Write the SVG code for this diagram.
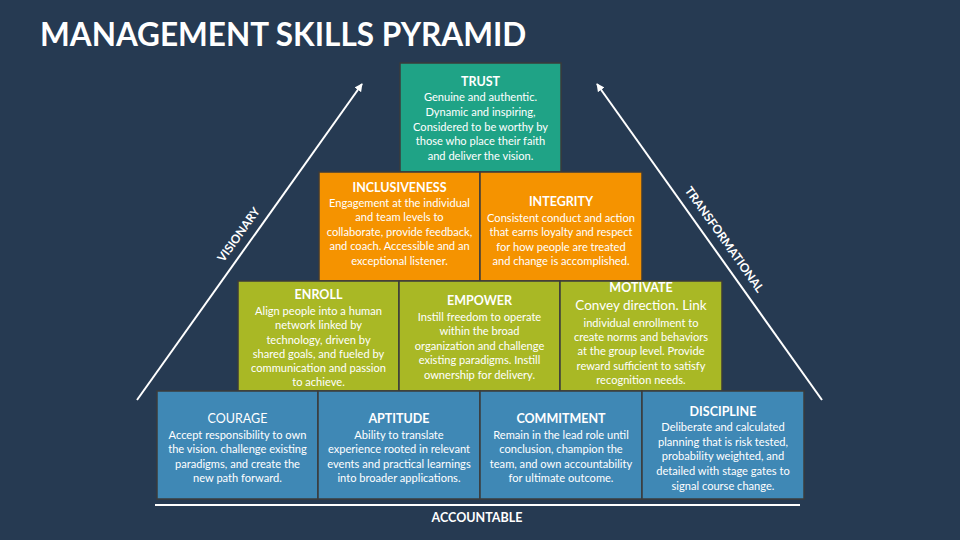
<svg xmlns="http://www.w3.org/2000/svg" width="960" height="540" viewBox="0 0 960 540">
<defs>
<marker id="ah" viewBox="0 0 10 10" refX="9" refY="5" markerWidth="4" markerHeight="4" orient="auto-start-reverse" markerUnits="strokeWidth">
<path d="M0,0 L10,5 L0,10 z" fill="#ffffff"/>
</marker>
<style>
text{font-family:Lato,"Liberation Sans",sans-serif;fill:#ffffff;text-anchor:middle}
.h{font-weight:bold;font-size:12.5px}
.b{font-size:11.1px}
.box{stroke:#3b3b3b;stroke-width:1.5}
.teal{fill:#1fa386}
.orange{fill:#f59300}
.green{fill:#a9b825}
.blue{fill:#3f88b5}
.ln{stroke:#ffffff;stroke-width:2;fill:none}
</style>
</defs>
<rect width="960" height="540" fill="#263a52"/>
<text x="40" y="46" style="font-size:31.5px;font-weight:bold;text-anchor:start">MANAGEMENT SKILLS PYRAMID</text>

<g id="connectors">
<line class="ln" x1="137" y1="400" x2="362" y2="84" marker-end="url(#ah)"/>
<line class="ln" x1="822" y1="400" x2="597" y2="84" marker-end="url(#ah)"/>
<line class="ln" x1="155" y1="505" x2="800" y2="505"/>
<text class="h" x="0" y="0" transform="translate(242,237) rotate(-54.5)" style="font-size:11.8px">VISIONARY</text>
<text class="h" x="0" y="0" transform="translate(721,242) rotate(54.5)" style="font-size:12px">TRANSFORMATIONAL</text>
<text class="h" x="477" y="522">ACCOUNTABLE</text>
</g>

<g id="trust">
<rect class="box teal" x="400" y="63" width="161" height="109"/>
<text class="h" x="480.5" y="86">TRUST</text>
<text class="b" x="480.5" y="101">Genuine and authentic.</text>
<text class="b" x="480.5" y="116">Dynamic and inspiring,</text>
<text class="b" x="480.5" y="131">Considered to be worthy by</text>
<text class="b" x="480.5" y="145">those who place their faith</text>
<text class="b" x="480.5" y="160">and deliver the vision.</text>
</g>

<g id="inclusiveness">
<rect class="box orange" x="319" y="172" width="161" height="109"/>
<text class="h" x="399.5" y="192">INCLUSIVENESS</text>
<text class="b" x="399.5" y="207">Engagement at the individual</text>
<text class="b" x="399.5" y="221">and team levels to</text>
<text class="b" x="399.5" y="236">collaborate, provide feedback,</text>
<text class="b" x="399.5" y="250">and coach. Accessible and an</text>
<text class="b" x="399.5" y="265">exceptional listener.</text>
</g>

<g id="integrity">
<rect class="box orange" x="480" y="172" width="162" height="109"/>
<text class="h" x="561" y="206">INTEGRITY</text>
<text class="b" x="561" y="222">Consistent conduct and action</text>
<text class="b" x="561" y="236">that earns loyalty and respect</text>
<text class="b" x="561" y="251">for how people are treated</text>
<text class="b" x="561" y="265">and change is accomplished.</text>
</g>

<g id="enroll">
<rect class="box green" x="238" y="281" width="161" height="110"/>
<text class="h" x="318.5" y="299">ENROLL</text>
<text class="b" x="318.5" y="315">Align people into a human</text>
<text class="b" x="318.5" y="329">network linked by</text>
<text class="b" x="318.5" y="344">technology, driven by</text>
<text class="b" x="318.5" y="358">shared goals, and fueled by</text>
<text class="b" x="318.5" y="372">communication and passion</text>
<text class="b" x="318.5" y="386">to achieve.</text>
</g>

<g id="empower">
<rect class="box green" x="399" y="281" width="161" height="110"/>
<text class="h" x="479.5" y="305">EMPOWER</text>
<text class="b" x="479.5" y="321">Instill freedom to operate</text>
<text class="b" x="479.5" y="335">within the broad</text>
<text class="b" x="479.5" y="350">organization and challenge</text>
<text class="b" x="479.5" y="364">existing paradigms. Instill</text>
<text class="b" x="479.5" y="379">ownership for delivery.</text>
</g>

<g id="motivate">
<rect class="box green" x="560" y="281" width="162" height="110"/>
<text class="h" x="641" y="292">MOTIVATE</text>
<text class="b" x="641" y="310" style="font-size:13.5px">Convey direction. Link</text>
<text class="b" x="641" y="327">individual enrollment to</text>
<text class="b" x="641" y="341">create norms and behaviors</text>
<text class="b" x="641" y="355">at the group level. Provide</text>
<text class="b" x="641" y="370">reward sufficient to satisfy</text>
<text class="b" x="641" y="384">recognition needs.</text>
</g>

<g id="courage">
<rect class="box blue" x="157" y="391" width="161" height="108"/>
<text class="h" x="237.5" y="423" style="font-weight:normal">COURAGE</text>
<text class="b" x="237.5" y="439">Accept responsibility to own</text>
<text class="b" x="237.5" y="453">the vision. challenge existing</text>
<text class="b" x="237.5" y="468">paradigms, and create the</text>
<text class="b" x="237.5" y="482">new path forward.</text>
</g>

<g id="aptitude">
<rect class="box blue" x="318" y="391" width="162" height="108"/>
<text class="h" x="399" y="423">APTITUDE</text>
<text class="b" x="399" y="439">Ability to translate</text>
<text class="b" x="399" y="453">experience rooted in relevant</text>
<text class="b" x="399" y="468">events and practical learnings</text>
<text class="b" x="399" y="482">into broader applications.</text>
</g>

<g id="commitment">
<rect class="box blue" x="480" y="391" width="162" height="108"/>
<text class="h" x="561" y="423">COMMITMENT</text>
<text class="b" x="561" y="439">Remain in the lead role until</text>
<text class="b" x="561" y="453">conclusion, champion the</text>
<text class="b" x="561" y="468">team, and own accountability</text>
<text class="b" x="561" y="482">for ultimate outcome.</text>
</g>

<g id="discipline">
<rect class="box blue" x="642" y="391" width="162" height="108"/>
<text class="h" x="723" y="416">DISCIPLINE</text>
<text class="b" x="723" y="431">Deliberate and calculated</text>
<text class="b" x="723" y="446">planning that is risk tested,</text>
<text class="b" x="723" y="460">probability weighted, and</text>
<text class="b" x="723" y="475">detailed with stage gates to</text>
<text class="b" x="723" y="490">signal course change.</text>
</g>
</svg>
